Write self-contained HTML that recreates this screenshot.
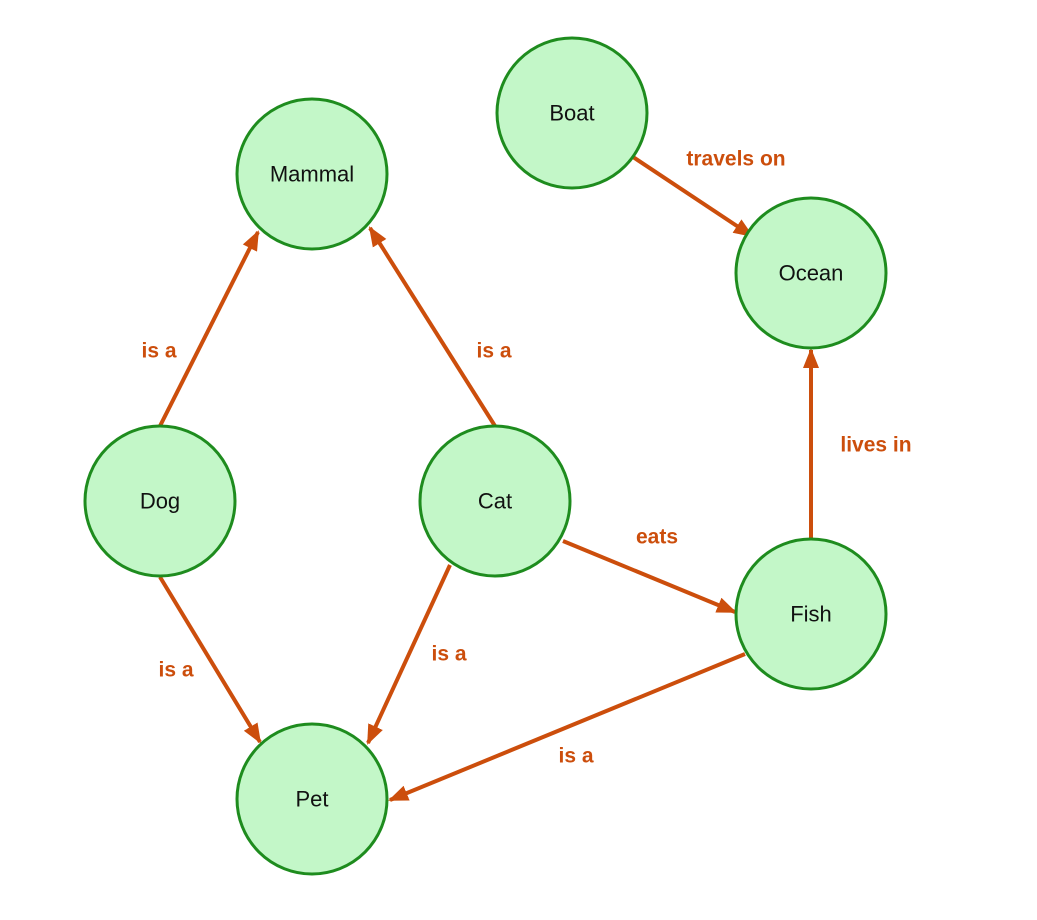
<!DOCTYPE html>
<html><head><meta charset="utf-8"><style>
html,body{margin:0;padding:0;background:#fff;}
svg text{font-family:"Liberation Sans",sans-serif;}
</style></head><body>
<svg width="1037" height="915" viewBox="0 0 1037 915" xmlns="http://www.w3.org/2000/svg">
<defs>
<marker id="a" markerWidth="10" markerHeight="10" refX="8" refY="5" orient="auto" markerUnits="userSpaceOnUse" viewBox="0 0 10 10">
<path d="M0,0 L10,5 L0,10 z" fill="#cc4e0c"/>
</marker>
<marker id="b" viewBox="0 0 20 20" refX="18" refY="10" markerWidth="20" markerHeight="20" orient="auto" markerUnits="userSpaceOnUse">
<path d="M0,2 L20,10 L0,18 z" fill="#cc4e0c"/>
</marker>
</defs>
<g stroke="#cc4e0c" stroke-width="4" fill="none" marker-end="url(#b)">
<line x1="160" y1="426" x2="258" y2="232"/>
<line x1="495" y1="426" x2="370" y2="228"/>
<line x1="160" y1="577" x2="260" y2="742"/>
<line x1="450" y1="565" x2="368" y2="743"/>
<line x1="563" y1="541" x2="735" y2="612"/>
<line x1="745" y1="654" x2="390" y2="800"/>
<line x1="811" y1="538" x2="811" y2="350"/>
<line x1="633" y1="157" x2="752" y2="236"/>
</g>
<g fill="#c3f7c8" stroke="#1e8c1e" stroke-width="3">
<circle cx="312" cy="174" r="75"/>
<circle cx="572" cy="113" r="75"/>
<circle cx="811" cy="273" r="75"/>
<circle cx="160" cy="501" r="75"/>
<circle cx="495" cy="501" r="75"/>
<circle cx="811" cy="614" r="75"/>
<circle cx="312" cy="799" r="75"/>
</g>
<g font-size="22" fill="#111" text-anchor="middle" dominant-baseline="central">
<text x="312" y="174">Mammal</text>
<text x="572" y="113">Boat</text>
<text x="811" y="273">Ocean</text>
<text x="160" y="501">Dog</text>
<text x="495" y="501">Cat</text>
<text x="811" y="614">Fish</text>
<text x="312" y="799">Pet</text>
</g>
<g font-size="21" font-weight="bold" fill="#cc4e0c" text-anchor="middle" dominant-baseline="central">
<text x="159" y="351">is a</text>
<text x="494" y="351">is a</text>
<text x="176" y="670">is a</text>
<text x="449" y="654">is a</text>
<text x="576" y="756">is a</text>
<text x="657" y="537">eats</text>
<text x="876" y="445">lives in</text>
<text x="736" y="159">travels on</text>
</g>
</svg>
</body></html>
